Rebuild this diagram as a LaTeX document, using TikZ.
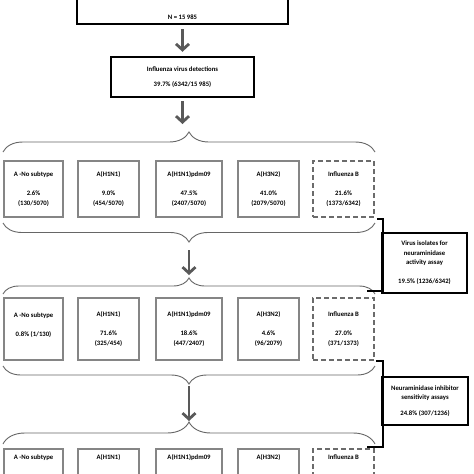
\documentclass[tikz,border=0pt]{standalone}
\usepackage{fontspec}
\setmainfont{Carlito}
\usepackage{tikz}
\usetikzlibrary{arrows.meta,positioning,calc,decorations.pathreplacing}

\begin{document}
\begin{tikzpicture}[
  x=1pt, y=-1pt,
  txt/.style={font=\fontsize{6.7}{9.5}\selectfont\bfseries, align=center, inner sep=1pt},
  blk/.style={txt, draw=black, line width=2.4pt},
  sub/.style={txt, draw=black!48, line width=2pt},
  subb/.style={sub, draw=black!58, dash pattern=on 5pt off 3pt},
  rowa/.style={minimum height=56pt},
  rowb/.style={minimum height=62pt},
  rowc/.style={text height=9pt, text depth=44pt},
  br/.style={decorate, decoration={brace, amplitude=#1}, draw=black!60, line width=0.9pt},
  br/.default=18pt,
  arr/.style={-{Straight Barb[length=6pt,width=13pt]}, line width=2.8pt, draw=black!65},
  brk/.style={draw=black, line width=1.5pt}
]
\useasboundingbox (0,0) rectangle (474,474);

\node[blk, minimum width=211pt, text height=60pt, text depth=3.5pt, anchor=south] (tot) at (182.5,25) {N = 15 985};
\node[blk, minimum width=143pt, minimum height=40pt] (det) at (182.5,77)
  {Influenza virus detections\\[5pt]39.7\% (6342/15 985)};

\node[sub, rowa, minimum width=59pt, anchor=west] (nos1) at (3,189) {A -No subtype\\[9.5pt]2.6\%\\(130/5070)};
\node[sub, rowa, minimum width=61pt, right=13pt of nos1] (hone1) {A(H1N1)\\[9.5pt]9.0\%\\(454/5070)};
\node[sub, rowa, minimum width=66pt, right=15pt of hone1] (pdm1) {A(H1N1)pdm09\\[9.5pt]47.5\%\\(2407/5070)};
\node[sub, rowa, minimum width=61pt, right=14pt of pdm1] (hthree1) {A(H3N2)\\[9.5pt]41.0\%\\(2079/5070)};
\node[subb, rowa, minimum width=61pt, right=12pt of hthree1] (infb1) {Influenza B\\[9.5pt]21.6\%\\(1373/6342)};

\node[sub, rowb, minimum width=59pt, anchor=west] (nos2) at (3,329) {A -No subtype\\[9.5pt]0.8\% (1/130)\\\mbox{}};
\node[sub, rowb, minimum width=61pt, right=13pt of nos2] (hone2) {A(H1N1)\\[9.5pt]71.6\%\\(325/454)};
\node[sub, rowb, minimum width=66pt, right=15pt of hone2] (pdm2) {A(H1N1)pdm09\\[9.5pt]18.6\%\\(447/2407)};
\node[sub, rowb, minimum width=61pt, right=14pt of pdm2] (hthree2) {A(H3N2)\\[9.5pt]4.6\%\\(96/2079)};
\node[subb, rowb, minimum width=61pt, right=12pt of hthree2] (infb2) {Influenza B\\[9.5pt]27.0\%\\(371/1373)};

\node[sub, rowc, minimum width=59pt, anchor=north west] (nos3) at (3,448) {A -No subtype};
\node[sub, rowc, minimum width=61pt, right=13pt of nos3] (hone3) {A(H1N1)};
\node[sub, rowc, minimum width=66pt, right=15pt of hone3] (pdm3) {A(H1N1)pdm09};
\node[sub, rowc, minimum width=61pt, right=14pt of pdm3] (hthree3) {A(H3N2)};
\node[subb, rowc, minimum width=61pt, right=12pt of hthree3] (infb3) {Influenza B};

\node[blk, minimum width=85pt, minimum height=60pt] (isol) at (424.5,263)
  {Virus isolates for\\neuraminidase\\activity assay\\[9.5pt]19.5\% (1236/6342)};
\node[blk, minimum width=86pt, minimum height=48pt] (nais) at (425,401)
  {Neuraminidase inhibitor\\sensitivity assays\\[6.5pt]24.8\% (307/1236)};

\draw[br=20pt] ([yshift=8pt]nos1.north west) -- ([yshift=8pt]infb1.north east);
\draw[br=19pt] ([yshift=-5pt]infb1.south east) -- ([yshift=-5pt]nos1.south west);
\draw[br=16pt] ([yshift=3pt]nos2.north west) -- ([yshift=3pt]infb2.north east);
\draw[br=18pt] ([yshift=-5pt]infb2.south east) -- ([yshift=-5pt]nos2.south west);
\draw[br=22pt] ([yshift=4pt]nos3.north west) -- ([yshift=4pt]infb3.north east);

\coordinate (tA) at ($(nos1.north west)!.5!(infb1.north east)+(0,-28)$);
\coordinate (tB) at ($(nos1.south west)!.5!(infb1.south east)+(0,24)$);
\coordinate (tC) at ($(nos2.north west)!.5!(infb2.north east)+(0,-19)$);
\coordinate (tD) at ($(nos2.south west)!.5!(infb2.south east)+(0,23)$);
\coordinate (tE) at ($(nos3.north west)!.5!(infb3.north east)+(0,-26)$);

\draw[arr, shorten <=4pt, shorten >=4pt] (tot.south) -- (det.north);
\draw[arr, shorten <=3pt, shorten >=8pt] (det.south) -- (det.south |- tA);
\draw[arr, shorten <=8pt, shorten >=3pt] (tB) -- (tC);
\draw[arr, shorten <=2pt, shorten >=1pt] (tD) -- (tE);

\coordinate (k1a) at ($(infb1.south east)+(2,1)$);
\coordinate (k1b) at (367,291);
\draw[brk] (k1a) -- ++(6,0) coordinate (k1m) |- (k1b);
\draw[brk] (isol.west) -- (isol.west -| k1m);

\coordinate (k2a) at ($(infb2.south east)+(1,0)$);
\coordinate (k2b) at (367,447);
\draw[brk] (k2a) -- ++(7,0) coordinate (k2m) |- (k2b);
\draw[brk] (nais.west) -- (nais.west -| k2m);

\end{tikzpicture}
\end{document}
